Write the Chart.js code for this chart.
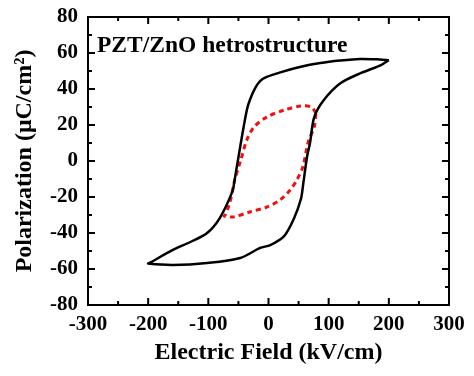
<!DOCTYPE html>
<html>
<head>
<meta charset="utf-8">
<script src="https://cdn.jsdelivr.net/npm/chart.js@4.4.0/dist/chart.umd.min.js"></script>
<style>
  html, body { margin: 0; padding: 0; background: #fff; }
  #wrap { width: 474px; height: 376px; }
</style>
</head>
<body>
<div id="wrap"><canvas id="myChart" width="474" height="376"></canvas></div>
<script>
// PZT/ZnO loop (black, solid)
const blackE = [200, 185, 152, 119, 86, 52, 21, -3, -14, -22, -31, -36, -46, -57, -60, -81, -102, -130, -159, -197, -200,
                -159, -102, -47, -14, 3, 26, 42, 54, 58, 64, 69, 76, 92, 120, 154, 187, 200];
const blackP = [56, 56.4, 56.7, 55.8, 54.4, 52.2, 49.4, 46.7, 44.4, 40.6, 33.9, 28.3, 10, -12, -17, -31.7, -40, -45, -49.4, -56.5, -57,
                -57.8, -56.7, -53.9, -48.3, -46.7, -41.7, -32.2, -21, -12, 2.2, 10, 24.4, 33.9, 43.3, 48.9, 53.3, 56];

// inner loop (red, dashed)
const redE = [79, 71, 54, 26, -3, -24, -36, -46, -57, -64, -72, -74, -59, -31, -3, 19, 36, 47, 57, 64, 67, 76, 79];
const redP = [26.7, 30, 30.6, 28.3, 24.4, 18.9, 11.7, 0.6, -11.7, -22.8, -30, -30.6, -31.1, -28.3, -25.6, -21.7, -16.1, -10.6, -3.3, 7.8, 11.7, 18.9, 26.7];

const xTicks = [-300, -200, -100, 0, 100, 200, 300];
const yTicks = [-80, -60, -40, -20, 0, 20, 40, 60, 80];

function pts(xs, ys) {
  return xs.map((v, i) => ({ x: v, y: ys[i] }));
}

const FONT = "'Liberation Serif', 'Times New Roman', serif";

const frameTicks = {
  id: 'frameTicks',
  afterDraw(chart) {
    const { ctx, chartArea: a, scales } = chart;
    const x = scales.x, y = scales.y;
    ctx.save();
    ctx.strokeStyle = '#000';
    ctx.lineWidth = 2;
    ctx.strokeRect(a.left, a.top, a.right - a.left, a.bottom - a.top);
    for (let v = -300; v <= 300; v += 50) {
      const px = x.getPixelForValue(v);
      const len = v % 100 === 0 ? 7 : 4;
      ctx.beginPath();
      ctx.moveTo(px, a.bottom); ctx.lineTo(px, a.bottom - len);
      ctx.moveTo(px, a.top); ctx.lineTo(px, a.top + len);
      ctx.stroke();
    }
    for (let v = -80; v <= 80; v += 10) {
      const py = y.getPixelForValue(v);
      const len = v % 20 === 0 ? 7 : 4;
      ctx.beginPath();
      ctx.moveTo(a.left, py); ctx.lineTo(a.left + len, py);
      ctx.moveTo(a.right, py); ctx.lineTo(a.right - len, py);
      ctx.stroke();
    }
    ctx.fillStyle = '#000';
    ctx.font = "bold 23.5px " + FONT;
    ctx.textBaseline = 'alphabetic';
    ctx.fillText('PZT/ZnO hetrostructure', a.left + 9, a.top + 35);
    ctx.restore();
  }
};

const config = {
  type: 'scatter',
  data: {
    datasets: [{
      data: pts(blackE, blackP),
      showLine: true,
      borderColor: '#000',
      borderWidth: 2.5,
      pointRadius: 0,
      tension: 0.3
    }, {
      data: pts(redE, redP),
      showLine: true,
      borderColor: '#f01010',
      borderWidth: 3,
      borderDash: [5, 4],
      pointRadius: 0,
      tension: 0.3
    }]
  },
  options: {
    responsive: false,
    animation: false,
    layout: { padding: { top: 17, right: 25, left: 0, bottom: 0 } },
    plugins: { legend: { display: false }, tooltip: { enabled: false } },
    scales: {
      x: {
        type: 'linear', min: -300, max: 300,
        grid: { display: false, drawTicks: false },
        border: { display: false },
        afterBuildTicks(s) { s.ticks = xTicks.map(v => ({ value: v })); },
        afterFit(s) { s.height = 71; s.paddingLeft = 0; s.paddingRight = 0; },
        ticks: { color: '#000', padding: 7, font: { family: FONT, weight: 'bold', size: 21 } },
        title: { display: true, text: 'Electric Field (kV/cm)', color: '#000', padding: { top: 0, bottom: 9 },
                 font: { family: FONT, weight: 'bold', size: 24 } }
      },
      y: {
        type: 'linear', min: -80, max: 80,
        grid: { display: false, drawTicks: false },
        border: { display: false },
        afterBuildTicks(s) { s.ticks = yTicks.map(v => ({ value: v })); },
        afterFit(s) { s.width = 88; s.paddingTop = 0; s.paddingBottom = 0; },
        ticks: { color: '#000', padding: 10, font: { family: FONT, weight: 'bold', size: 21 } },
        title: { display: true, text: 'Polarization (\u03bcC/cm\u00b2)', color: '#000', padding: { top: 10, bottom: 0 },
                 font: { family: FONT, weight: 'bold', size: 24 } }
      }
    }
  },
  plugins: [frameTicks]
};

const myChart = new Chart(document.getElementById('myChart'), config);
</script>
</body>
</html>
